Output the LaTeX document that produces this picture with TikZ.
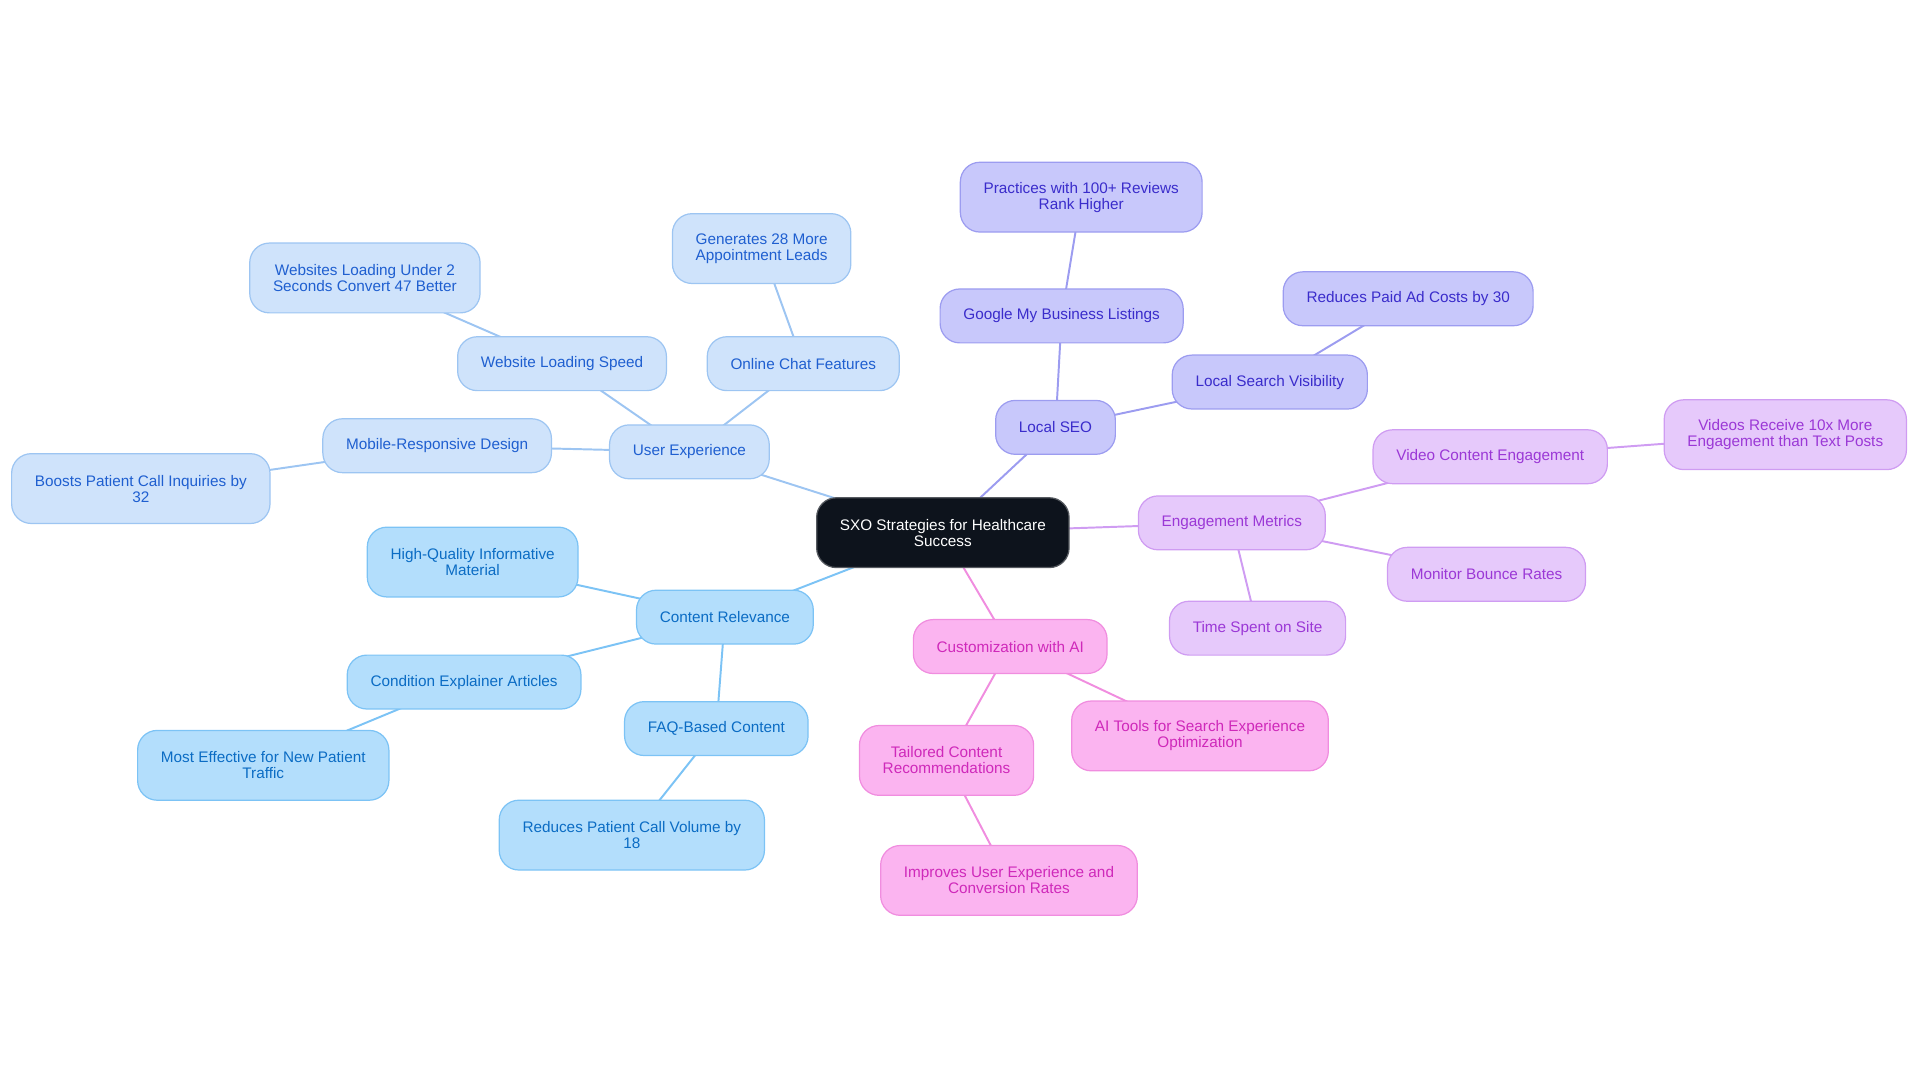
\documentclass[tikz,border=0pt]{standalone}
\usepackage{fontspec}
\setmainfont{Liberation Sans}
\usepackage{tikz}
\usetikzlibrary{backgrounds}
\usepackage{xcolor}
\definecolor{RootNC}{HTML}{0D131C}
\definecolor{UxNC}{HTML}{CFE3FB}
\definecolor{UxLineNC}{HTML}{9DC5F2}
\definecolor{UxTextNC}{HTML}{1F5FD0}
\definecolor{CrNC}{HTML}{B3DEFC}
\definecolor{CrLineNC}{HTML}{7CC3F5}
\definecolor{CrTextNC}{HTML}{0B6CC4}
\definecolor{SeoNC}{HTML}{C8C8FB}
\definecolor{SeoLineNC}{HTML}{9C9CF0}
\definecolor{SeoTextNC}{HTML}{3A2CCB}
\definecolor{EmNC}{HTML}{E6C9FB}
\definecolor{EmLineNC}{HTML}{CF9CF2}
\definecolor{EmTextNC}{HTML}{9B38D6}
\definecolor{AiNC}{HTML}{FBB4F0}
\definecolor{AiLineNC}{HTML}{F08DDF}
\definecolor{AiTextNC}{HTML}{CF29BA}
\newcommand\noderoot{SXO Strategies for Healthcare\\Success}
\newcommand\nodeux{User Experience}
\newcommand\nodewls{Website Loading Speed}
\newcommand\nodewlu{Websites Loading Under 2\\Seconds Convert 47 Better}
\newcommand\nodeocf{Online Chat Features}
\newcommand\nodegen{Generates 28 More\\Appointment Leads}
\newcommand\nodemrd{Mobile-Responsive Design}
\newcommand\nodebpc{Boosts Patient Call Inquiries by\\32}
\newcommand\nodecr{Content Relevance}
\newcommand\nodehq{High-Quality Informative\\Material}
\newcommand\nodecea{Condition Explainer Articles}
\newcommand\nodeme{Most Effective for New Patient\\Traffic}
\newcommand\nodefaq{FAQ-Based Content}
\newcommand\noderpc{Reduces Patient Call Volume by\\18}
\newcommand\nodeseo{Local SEO}
\newcommand\nodegmb{Google My Business Listings}
\newcommand\nodeprr{Practices with 100+ Reviews\\Rank Higher}
\newcommand\nodelsv{Local Search Visibility}
\newcommand\noderpa{Reduces Paid Ad Costs by 30}
\newcommand\nodeem{Engagement Metrics}
\newcommand\nodevce{Video Content Engagement}
\newcommand\nodevr{Videos Receive 10x More\\Engagement than Text Posts}
\newcommand\nodembr{Monitor Bounce Rates}
\newcommand\nodets{Time Spent on Site}
\newcommand\nodeai{Customization with AI}
\newcommand\nodetcr{Tailored Content\\Recommendations}
\newcommand\nodeait{AI Tools for Search Experience\\Optimization}
\newcommand\nodeiux{Improves User Experience and\\Conversion Rates}
\tikzstyle{mynodestyle} = [rectangle, rounded corners=16pt, minimum height=44pt, inner xsep=19pt, inner ysep=6pt, align=center, font=\fontsize{12.5}{13}\selectfont, line width=1pt]
\tikzstyle{two} = [minimum height=57pt]
\tikzstyle{rn} = [mynodestyle, draw=RootNC!70!white, fill=RootNC, text=white]
\tikzstyle{un} = [mynodestyle, draw=UxLineNC, fill=UxNC, text=UxTextNC]
\tikzstyle{cn} = [mynodestyle, draw=CrLineNC, fill=CrNC, text=CrTextNC]
\tikzstyle{sn} = [mynodestyle, draw=SeoLineNC, fill=SeoNC, text=SeoTextNC]
\tikzstyle{en} = [mynodestyle, draw=EmLineNC, fill=EmNC, text=EmTextNC]
\tikzstyle{an} = [mynodestyle, draw=AiLineNC, fill=AiNC, text=AiTextNC]
\tikzstyle{myedgestyle} = [line width=1.6pt]
\tikzstyle{ue} = [myedgestyle, draw=UxLineNC]
\tikzstyle{ce} = [myedgestyle, draw=CrLineNC]
\tikzstyle{se} = [myedgestyle, draw=SeoLineNC]
\tikzstyle{ee} = [myedgestyle, draw=EmLineNC]
\tikzstyle{ae} = [myedgestyle, draw=AiLineNC]

\begin{document}
\begin{tikzpicture}[x=1pt, y=-1pt]
\useasboundingbox (0,0) rectangle (1568,884.5);
\node[rn, two] (root) at (770, 435) {\noderoot};
\node[un] (ux) at (563, 369) {\nodeux};
\node[un] (wls) at (459, 297) {\nodewls};
\node[un, two] (wlu) at (298, 227) {\nodewlu};
\node[un] (ocf) at (656, 297) {\nodeocf};
\node[un, two] (gen) at (622, 203) {\nodegen};
\node[un] (mrd) at (357, 364) {\nodemrd};
\node[un, two] (bpc) at (115, 399) {\nodebpc};
\node[cn] (cr) at (592, 504) {\nodecr};
\node[cn, two] (hq) at (386, 459) {\nodehq};
\node[cn] (cea) at (379, 557) {\nodecea};
\node[cn, two] (me) at (215, 625) {\nodeme};
\node[cn] (faq) at (585, 595) {\nodefaq};
\node[cn, two] (rpc) at (516, 682) {\noderpc};
\node[sn] (seo) at (862, 349) {\nodeseo};
\node[sn] (gmb) at (867, 258) {\nodegmb};
\node[sn, two] (prr) at (883, 161) {\nodeprr};
\node[sn] (lsv) at (1037, 312) {\nodelsv};
\node[sn] (rpa) at (1150, 244) {\noderpa};
\node[en] (em) at (1006, 427) {\nodeem};
\node[en] (vce) at (1217, 373) {\nodevce};
\node[en, two] (vr) at (1458, 355) {\nodevr};
\node[en] (mbr) at (1214, 469) {\nodembr};
\node[en] (ts) at (1027, 513) {\nodets};
\node[an] (ai) at (825, 528) {\nodeai};
\node[an, two] (tcr) at (773, 621) {\nodetcr};
\node[an, two] (ait) at (980, 601) {\nodeait};
\node[an, two] (iux) at (824, 719) {\nodeiux};
\begin{scope}[on background layer]
\draw [ue] (root.center) -- (ux.center);
\draw [ue] (ux.center) -- (wls.center);
\draw [ue] (wls.center) -- (wlu.center);
\draw [ue] (ux.center) -- (ocf.center);
\draw [ue] (ocf.center) -- (gen.center);
\draw [ue] (ux.center) -- (mrd.center);
\draw [ue] (mrd.center) -- (bpc.center);
\draw [ce] (root.center) -- (cr.center);
\draw [ce] (cr.center) -- (hq.center);
\draw [ce] (cr.center) -- (cea.center);
\draw [ce] (cea.center) -- (me.center);
\draw [ce] (cr.center) -- (faq.center);
\draw [ce] (faq.center) -- (rpc.center);
\draw [se] (root.center) -- (seo.center);
\draw [se] (seo.center) -- (gmb.center);
\draw [se] (gmb.center) -- (prr.center);
\draw [se] (seo.center) -- (lsv.center);
\draw [se] (lsv.center) -- (rpa.center);
\draw [ee] (root.center) -- (em.center);
\draw [ee] (em.center) -- (vce.center);
\draw [ee] (vce.center) -- (vr.center);
\draw [ee] (em.center) -- (mbr.center);
\draw [ee] (em.center) -- (ts.center);
\draw [ae] (root.center) -- (ai.center);
\draw [ae] (ai.center) -- (tcr.center);
\draw [ae] (ai.center) -- (ait.center);
\draw [ae] (tcr.center) -- (iux.center);
\end{scope}
\end{tikzpicture}
\end{document}
